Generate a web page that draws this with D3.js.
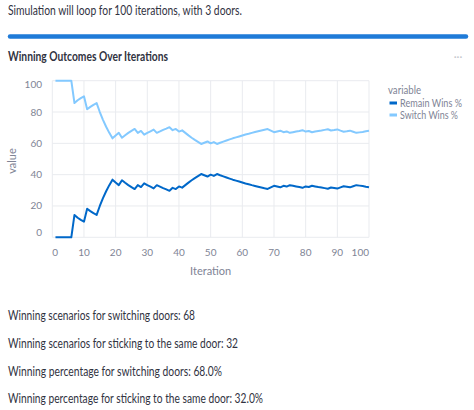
<!DOCTYPE html>
<html lang="en">

<head>
    <meta charset="UTF-8">
    <script src="https://d3js.org/d3.v7.min.js"></script>
    <title>Monty Hall</title>
    <style>
        body {
            margin: 0;
            background: #fff;
        }

        svg text {
            font-family: "Lato", "Noto Sans", sans-serif;
        }
    </style>
</head>

<body>

    <svg id="chart" width="474" height="410"></svg>

    <script>
        // data
        var iterations = d3.range(1, 101);

        var remainWins = [
            0, 0, 0, 0, 0, 0, 14.3, 12.5, 11.1, 10.0,
            18.2, 16.7, 15.4, 14.3, 20.0, 25.0, 29.4, 33.3, 36.8, 35.0,
            33.3, 36.4, 34.8, 33.3, 32.0, 30.8, 33.3, 32.1, 34.5, 33.3,
            32.3, 31.25, 33.3, 32.4, 31.4, 30.6, 29.7, 31.6, 30.8, 32.5,
            31.7, 33.3, 34.9, 36.4, 37.8, 39.1, 40.4, 39.6, 38.8, 40.0,
            39.2, 40.4, 39.6, 38.9, 38.2, 37.5, 36.8, 36.2, 35.6, 35.0,
            34.4, 33.9, 33.3, 32.8, 32.3, 31.8, 31.3, 30.9, 31.9, 32.9,
            32.4, 31.9, 32.9, 32.4, 33.3, 32.9, 32.5, 32.1, 31.6, 32.5,
            32.1, 32.9, 32.5, 32.1, 31.8, 31.4, 31.0, 31.8, 31.5, 31.1,
            31.9, 32.6, 32.3, 31.9, 32.6, 33.3, 33.0, 32.7, 32.3, 32.0
        ];

        var switchWins = [
            100, 100, 100, 100, 100, 100, 85.7, 87.5, 88.9, 90.0,
            81.8, 83.3, 84.6, 85.7, 80.0, 75.0, 70.6, 66.7, 63.2, 65.0,
            66.7, 63.6, 65.2, 66.7, 68.0, 69.2, 66.7, 67.9, 65.5, 66.7,
            67.7, 68.75, 66.7, 67.6, 68.6, 69.4, 70.3, 68.4, 69.2, 67.5,
            68.3, 66.7, 65.1, 63.6, 62.2, 60.9, 59.6, 60.4, 61.2, 60.0,
            60.8, 59.6, 60.4, 61.1, 61.8, 62.5, 63.2, 63.8, 64.4, 65.0,
            65.6, 66.1, 66.7, 67.2, 67.7, 68.2, 68.7, 69.1, 68.1, 67.1,
            67.6, 68.1, 67.1, 67.6, 66.7, 67.1, 67.5, 67.9, 68.4, 67.5,
            67.9, 67.1, 67.5, 67.9, 68.2, 68.6, 69.0, 68.2, 68.5, 68.9,
            68.1, 67.4, 67.7, 68.1, 67.4, 66.7, 67.0, 67.3, 67.7, 68.0
        ];

        var seriesNames = ["Remain Wins %", "Switch Wins %"];
        var seriesColors = ["#0068c9", "#83c9ff"];
        var xTicks = [0, 10, 20, 30, 40, 50, 60, 70, 80, 90, 100];
        var yTicks = [0, 20, 40, 60, 80, 100];

        var infoLines = [
            "Winning scenarios for switching doors: 68",
            "Winning scenarios for sticking to the same door: 32",
            "Winning percentage for switching doors: 68.0%",
            "Winning percentage for sticking to the same door: 32.0%"
        ];

        var svg = d3.select("#chart");
        var textColor = "#31333f";
        var axisColor = "#808495";
        var gridColor = "#e9ebef";

        // squeeze a text to the width it has in the picture (narrower font there)
        function fit(sel, w) {
            sel.each(function () {
                var len = this.getComputedTextLength();
                if (len > w) {
                    d3.select(this)
                        .attr("textLength", w)
                        .attr("lengthAdjust", "spacingAndGlyphs");
                }
            });
            return sel;
        }

        // top text
        svg.append("text")
            .attr("x", 8)
            .attr("y", 15)
            .attr("fill", textColor)
            .style("font-size", "14px")
            .text("Simulation will loop for 100 iterations, with 3 doors.")
            .call(fit, 234);

        // progress bar
        svg.append("line")
            .attr("x1", 10)
            .attr("x2", 466)
            .attr("y1", 36.5)
            .attr("y2", 36.5)
            .attr("stroke", "#1f7bd8")
            .attr("stroke-width", 4.5)
            .attr("stroke-linecap", "round");

        // chart title
        svg.append("text")
            .attr("x", 8)
            .attr("y", 61)
            .attr("fill", textColor)
            .style("font-size", "13px")
            .style("font-weight", "bold")
            .text("Winning Outcomes Over Iterations")
            .call(fit, 160);

        svg.append("text")
            .attr("x", 458)
            .attr("y", 61)
            .attr("fill", "#c4c6cc")
            .attr("text-anchor", "middle")
            .style("font-size", "11px")
            .text("···");

        // scales
        var x = d3.scaleLinear().domain([0, 100]).range([52.3, 369]);
        var y = d3.scaleLinear().domain([0, 100]).range([237.3, 80.7]);

        // grid
        var grid = svg.append("g");
        grid.selectAll(".vgrid")
            .data(xTicks)
            .enter()
            .append("line")
            .attr("x1", function (d) { return x(d); })
            .attr("x2", function (d) { return x(d); })
            .attr("y1", y(0))
            .attr("y2", y(100))
            .attr("stroke", gridColor)
            .attr("stroke-width", 1);
        grid.selectAll(".hgrid")
            .data(yTicks)
            .enter()
            .append("line")
            .attr("x1", x(0))
            .attr("x2", x(100))
            .attr("y1", function (d) { return y(d); })
            .attr("y2", function (d) { return y(d); })
            .attr("stroke", gridColor)
            .attr("stroke-width", 1);

        // x tick labels (first/last flush like vega)
        svg.append("g").selectAll("text")
            .data(xTicks)
            .enter()
            .append("text")
            .attr("x", function (d) { return x(d); })
            .attr("y", 255.5)
            .attr("fill", axisColor)
            .attr("text-anchor", function (d, i) {
                return i == 0 ? "start" : (i == xTicks.length - 1 ? "end" : "middle");
            })
            .style("font-size", "10px")
            .text(function (d) { return d; });

        // y tick labels
        svg.append("g").selectAll("text")
            .data(yTicks)
            .enter()
            .append("text")
            .attr("x", 42)
            .attr("y", function (d) { return y(d); })
            .attr("dy", function (d, i) {
                return i == 0 ? "-0.1em" : (i == yTicks.length - 1 ? "0.75em" : "0.35em");
            })
            .attr("fill", axisColor)
            .attr("text-anchor", "end")
            .style("font-size", "10px")
            .text(function (d) { return d; });

        // axis titles
        svg.append("text")
            .attr("transform", "translate(16," + ((y(0) + y(100)) / 2 + 2) + ") rotate(-90)")
            .attr("text-anchor", "middle")
            .attr("fill", axisColor)
            .style("font-size", "11px")
            .text("value");

        svg.append("text")
            .attr("x", (x(0) + x(100)) / 2)
            .attr("y", 275)
            .attr("text-anchor", "middle")
            .attr("fill", axisColor)
            .style("font-size", "11px")
            .text("Iteration");

        // lines
        var line = d3.line()
            .x(function (d) { return x(d[0]); })
            .y(function (d) { return y(d[1]); });

        [remainWins, switchWins].forEach(function (vals, k) {
            svg.append("path")
                .datum(iterations.map(function (it, i) { return [it, vals[i]]; }))
                .attr("fill", "none")
                .attr("stroke", seriesColors[k])
                .attr("stroke-width", 2)
                .attr("stroke-linejoin", "round")
                .attr("d", line);
        });

        // legend
        var legend = svg.append("g").attr("transform", "translate(388,0)");
        legend.append("text")
            .attr("x", 0)
            .attr("y", 94)
            .attr("fill", axisColor)
            .style("font-size", "11px")
            .text("variable")
            .call(fit, 33);

        seriesNames.forEach(function (name, i) {
            var ly = 103 + i * 12;
            legend.append("line")
                .attr("x1", 1.5)
                .attr("x2", 9)
                .attr("y1", ly)
                .attr("y2", ly)
                .attr("stroke", seriesColors[i])
                .attr("stroke-width", 3);
            legend.append("text")
                .attr("x", 12)
                .attr("y", ly + 4)
                .attr("fill", axisColor)
                .style("font-size", "11px")
                .text(name)
                .call(fit, i == 0 ? 62 : 58);
        });

        // result texts, widths as measured in the picture
        var infoWidths = [187, 230, 214, 255];
        svg.append("g").selectAll("text")
            .data(infoLines)
            .enter()
            .append("text")
            .attr("x", 8)
            .attr("y", function (d, i) { return 320 + i * 27.8; })
            .attr("fill", textColor)
            .style("font-size", "13px")
            .text(function (d) { return d; })
            .each(function (d, i) { fit(d3.select(this), infoWidths[i]); });
    </script>
</body>

</html>
